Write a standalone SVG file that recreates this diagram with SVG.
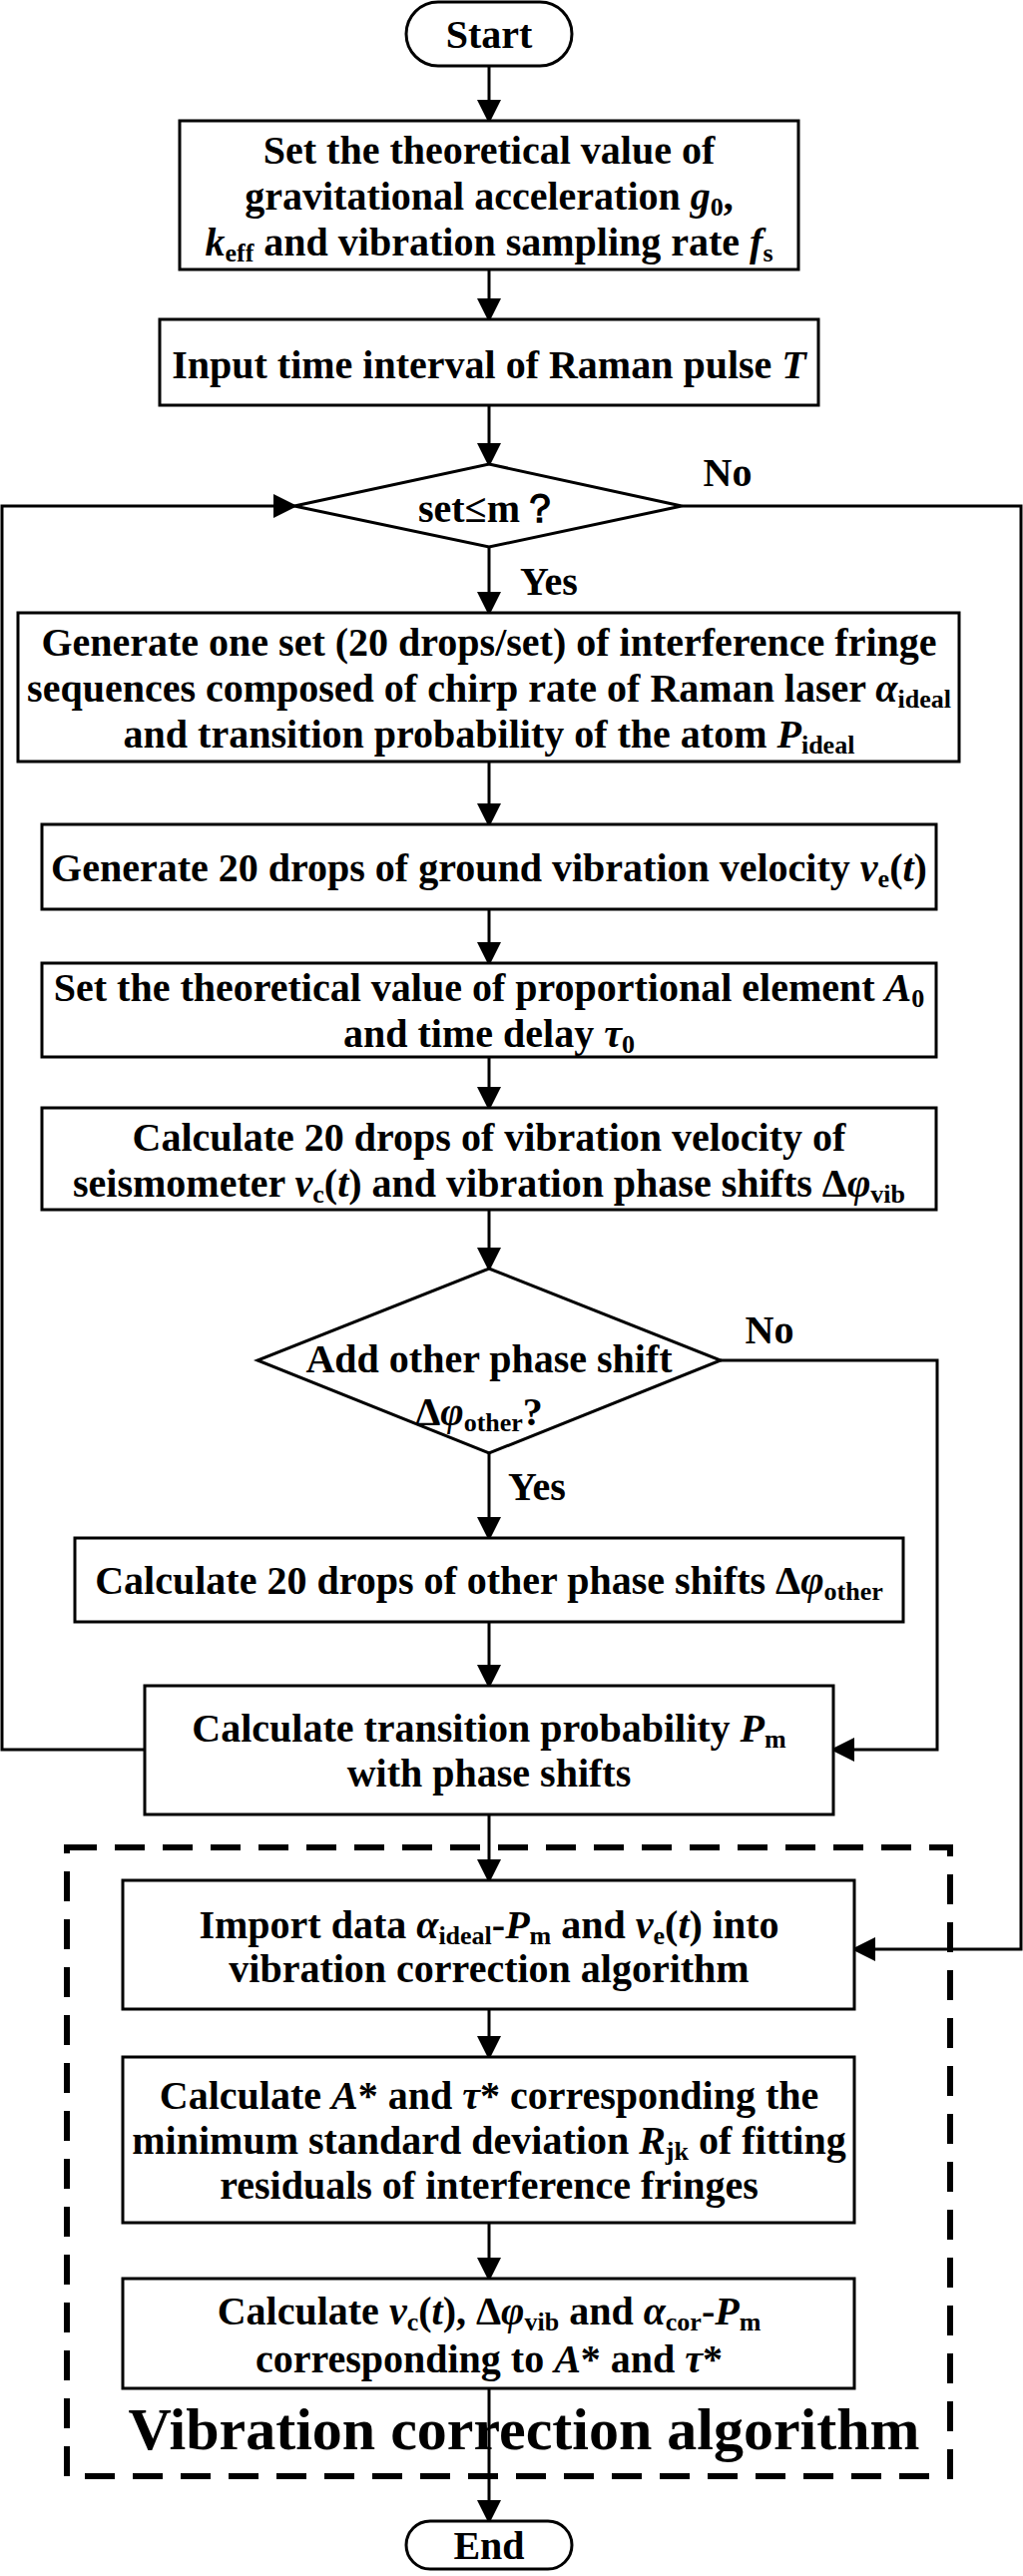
<svg xmlns="http://www.w3.org/2000/svg" width="1025" height="2581" viewBox="0 0 1025 2581">
<style>
text{font-family:"Liberation Serif","Times New Roman",serif;font-weight:bold;font-size:40px;fill:#000;text-anchor:middle}
.i{font-style:italic}
.s{font-size:26px}
.n{fill:#fff;stroke:#000;stroke-width:3}
.c{fill:none;stroke:#000;stroke-width:3}
.t{font-size:60px}
</style>
<defs><marker id="a" markerWidth="8" markerHeight="8" refX="7" refY="4" orient="auto" markerUnits="strokeWidth"><path d="M0,0L8,4L0,8z" fill="#000"/></marker></defs>
<g id="dashed"><rect x="67" y="1851" width="885" height="630" fill="none" stroke="#000" stroke-width="6" stroke-dasharray="30,18"/><text class="t" x="525" y="2454">Vibration correction algorithm</text></g>
<g id="connectors">
<path class="c" d="M490,66V121" marker-end="url(#a)"/>
<path class="c" d="M490,270V320" marker-end="url(#a)"/>
<path class="c" d="M490,406V465" marker-end="url(#a)"/>
<path class="c" d="M490,548V614" marker-end="url(#a)"/>
<path class="c" d="M490,763V826" marker-end="url(#a)"/>
<path class="c" d="M490,911V965" marker-end="url(#a)"/>
<path class="c" d="M490,1059V1110" marker-end="url(#a)"/>
<path class="c" d="M490,1212V1271" marker-end="url(#a)"/>
<path class="c" d="M490,1456V1541" marker-end="url(#a)"/>
<path class="c" d="M490,1625V1689" marker-end="url(#a)"/>
<path class="c" d="M490,1818V1884" marker-end="url(#a)"/>
<path class="c" d="M490,2013V2061" marker-end="url(#a)"/>
<path class="c" d="M490,2227V2283" marker-end="url(#a)"/>
<path class="c" d="M490,2393V2526" marker-end="url(#a)"/>
<path class="c" d="M683,507H1023V1953H856" marker-end="url(#a)"/>
<path class="c" d="M145,1753H2V507H295" marker-end="url(#a)"/>
<path class="c" d="M722,1363H939V1753H835" marker-end="url(#a)"/>
<text x="729" y="487">No</text>
<text x="550" y="596">Yes</text>
<text x="771" y="1346">No</text>
<text x="538" y="1503">Yes</text>
</g>
<g id="start"><rect class="n" x="407" y="2" width="166" height="64" rx="32"/><text x="490" y="48">Start</text></g>
<g id="n1"><rect class="n" x="180" y="121" width="620" height="149"/>
<text x="490" y="164">Set the theoretical value of</text>
<text x="490" y="210">gravitational acceleration <tspan class="i">g</tspan><tspan class="s" dy="6">0</tspan><tspan dy="-6">,</tspan></text>
<text x="490" y="256"><tspan class="i">k</tspan><tspan class="s" dy="6">eff</tspan><tspan dy="-6"> and vibration sampling rate </tspan><tspan class="i">f</tspan><tspan class="s" dy="6">s</tspan></text></g>
<g id="n2"><rect class="n" x="160" y="320" width="660" height="86"/><text x="490" y="379">Input time interval of Raman pulse <tspan class="i">T</tspan></text></g>
<g id="d1"><path class="n" d="M490,465L683,507L490,548L295,507z"/><text x="490" y="523">set≤m？</text></g>
<g id="n3"><rect class="n" x="18" y="614" width="943" height="149"/>
<text x="490" y="657">Generate one set (20 drops/set) of interference fringe</text>
<text x="490" y="703">sequences composed of chirp rate of Raman laser <tspan class="i">α</tspan><tspan class="s" dy="6">ideal</tspan></text>
<text x="490" y="749">and transition probability of the atom <tspan class="i">P</tspan><tspan class="s" dy="6">ideal</tspan></text></g>
<g id="n4"><rect class="n" x="42" y="826" width="896" height="85"/><text x="490" y="883">Generate 20 drops of ground vibration velocity <tspan class="i">v</tspan><tspan class="s" dy="6">e</tspan><tspan dy="-6">(</tspan><tspan class="i">t</tspan>)</text></g>
<g id="n5"><rect class="n" x="42" y="965" width="896" height="94"/>
<text x="490" y="1003">Set the theoretical value of proportional element <tspan class="i">A</tspan><tspan class="s" dy="6">0</tspan></text>
<text x="490" y="1049">and time delay <tspan class="i">τ</tspan><tspan class="s" dy="6">0</tspan></text></g>
<g id="n6"><rect class="n" x="42" y="1110" width="896" height="102"/>
<text x="490" y="1153">Calculate 20 drops of vibration velocity of</text>
<text x="490" y="1199">seismometer <tspan class="i">v</tspan><tspan class="s" dy="6">c</tspan><tspan dy="-6">(</tspan><tspan class="i">t</tspan>) and vibration phase shifts Δ<tspan class="i">φ</tspan><tspan class="s" dy="6">vib</tspan></text></g>
<g id="d2"><path class="n" d="M490,1271L722,1363L490,1456L258,1363z"/>
<text x="490" y="1375">Add other phase shift</text>
<text x="480" y="1428">Δ<tspan class="i">φ</tspan><tspan class="s" dy="6">other</tspan><tspan dy="-6">?</tspan></text></g>
<g id="n7"><rect class="n" x="75" y="1541" width="830" height="84"/><text x="490" y="1597">Calculate 20 drops of other phase shifts Δ<tspan class="i">φ</tspan><tspan class="s" dy="6">other</tspan></text></g>
<g id="n8"><rect class="n" x="145" y="1689" width="690" height="129"/>
<text x="490" y="1745">Calculate transition probability <tspan class="i">P</tspan><tspan class="s" dy="6">m</tspan></text>
<text x="490" y="1790">with phase shifts</text></g>
<g id="n9"><rect class="n" x="123" y="1884" width="733" height="129"/>
<text x="490" y="1942">Import data <tspan class="i">α</tspan><tspan class="s" dy="6">ideal</tspan><tspan dy="-6">-</tspan><tspan class="i">P</tspan><tspan class="s" dy="6">m</tspan><tspan dy="-6"> and </tspan><tspan class="i">v</tspan><tspan class="s" dy="6">e</tspan><tspan dy="-6">(</tspan><tspan class="i">t</tspan>) into</text>
<text x="490" y="1986">vibration correction algorithm</text></g>
<g id="n10"><rect class="n" x="123" y="2061" width="733" height="166"/>
<text x="490" y="2113">Calculate <tspan class="i">A</tspan>* and <tspan class="i">τ</tspan>* corresponding the</text>
<text x="490" y="2158">minimum standard deviation <tspan class="i">R</tspan><tspan class="s" dy="6">jk</tspan><tspan dy="-6"> of fitting</tspan></text>
<text x="490" y="2203">residuals of interference fringes</text></g>
<g id="n11"><rect class="n" x="123" y="2283" width="733" height="110"/>
<text x="490" y="2329">Calculate <tspan class="i">v</tspan><tspan class="s" dy="6">c</tspan><tspan dy="-6">(</tspan><tspan class="i">t</tspan>), Δ<tspan class="i">φ</tspan><tspan class="s" dy="6">vib</tspan><tspan dy="-6"> and </tspan><tspan class="i">α</tspan><tspan class="s" dy="6">cor</tspan><tspan dy="-6">-</tspan><tspan class="i">P</tspan><tspan class="s" dy="6">m</tspan></text>
<text x="490" y="2377">corresponding to <tspan class="i">A</tspan>* and <tspan class="i">τ</tspan>*</text></g>
<g id="end"><rect class="n" x="407" y="2526" width="166" height="48" rx="24"/><text x="490" y="2564">End</text></g>
</svg>
